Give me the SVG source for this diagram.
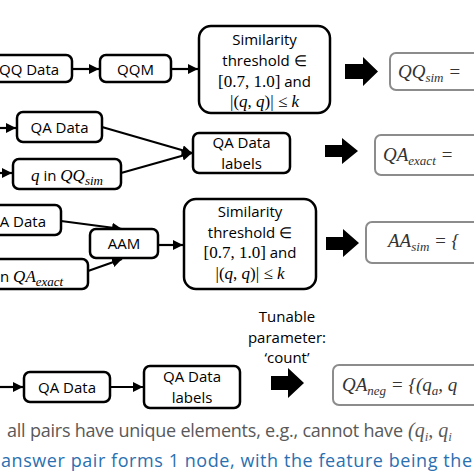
<svg xmlns="http://www.w3.org/2000/svg" width="474" height="474" viewBox="0 0 474 474">
<style>
.box{fill:#fff;stroke:#000;stroke-width:2.5}
.gbox{fill:#fff;stroke:#8c8c8c;stroke-width:2}
.t{font-family:"Open Sans","Noto Sans",sans-serif;font-size:15px;fill:#000}
.tm{font-family:"Liberation Serif","DejaVu Serif",serif;font-size:17px;fill:#000}
.i{font-style:italic}
.m{font-family:"Liberation Serif","DejaVu Serif",serif;font-style:italic;font-size:19px;fill:#333}
.sub{font-size:13px}
.c{stroke:#000;stroke-width:2.2;fill:none;marker-end:url(#ah)}
.big{fill:#000}
.gray{font-family:"Open Sans","Noto Sans",sans-serif;font-size:18px;fill:#595959}
.graym{font-family:"Liberation Serif","DejaVu Serif",serif;font-style:italic;font-size:20px;fill:#595959}
.blue{font-family:"Open Sans","Noto Sans",sans-serif;font-size:18px;fill:#2a70b0}
</style>
<defs>
<marker id="ah" markerWidth="10" markerHeight="10" refX="10" refY="5" orient="auto" markerUnits="userSpaceOnUse" viewBox="0 0 10 10"><path d="M0,0 L10,5 L0,10 z" fill="#000"/></marker>
</defs>

<g id="connectors">
<line class="c" x1="72" y1="69" x2="99" y2="69"/>
<line class="c" x1="171" y1="69" x2="198" y2="69"/>
<line class="c" x1="0" y1="128" x2="16" y2="128"/>
<line class="c" x1="0" y1="173" x2="12" y2="173"/>
<line class="c" x1="102" y1="127" x2="192" y2="153"/>
<line class="c" x1="121" y1="173" x2="192" y2="153"/>
<line class="c" x1="61" y1="221" x2="122" y2="229"/>
<line class="c" x1="88" y1="271" x2="122" y2="259"/>
<line class="c" x1="158" y1="245" x2="183" y2="245"/>
<line class="c" x1="0" y1="387" x2="23" y2="387"/>
<line class="c" x1="110" y1="387" x2="143" y2="387"/>
</g>

<g id="bigarrows">
<path class="big" d="M345,64 H363 V57 L378,71.5 L363,86 V79 H345 Z"/>
<path class="big" d="M325,145 H342 V138 L358,151 L342,164 V157 H325 Z"/>
<path class="big" d="M326,237 H343 V229 L359,243 L343,257 V250 H326 Z"/>
<path class="big" d="M271,376 H288 V368 L304,383 L288,398 V390 H271 Z"/>
</g>

<g id="qqdata">
<rect class="box" x="-20" y="55" width="92" height="27" rx="6"/>
<text class="t" x="-1" y="75">QQ Data</text>
</g>
<g id="qqm">
<rect class="box" x="100" y="55" width="71" height="27" rx="6"/>
<text class="t" x="135.5" y="75" text-anchor="middle">QQM</text>
</g>
<g id="sim1">
<rect class="box" x="199" y="26" width="131" height="87" rx="12"/>
<text class="t" x="264.5" y="45" text-anchor="middle">Similarity</text>
<text class="t" x="264.5" y="66" text-anchor="middle">threshold ∈</text>
<text x="264.5" y="87" text-anchor="middle"><tspan class="tm">[0.7, 1.0]</tspan><tspan class="t"> and</tspan></text>
<text class="tm" x="264.5" y="107" text-anchor="middle">|(<tspan class="i">q</tspan>, <tspan class="i">q</tspan>)| ≤ <tspan class="i">k</tspan></text>
</g>
<g id="qqsim">
<rect class="gbox" x="390" y="53" width="110" height="37" rx="6"/>
<text class="m" x="398" y="78">QQ<tspan class="sub" dy="4">sim</tspan><tspan dy="-4"> =</tspan></text>
</g>

<g id="qadata1">
<rect class="box" x="17" y="112" width="85" height="30" rx="6"/>
<text class="t" x="59.5" y="133" text-anchor="middle">QA Data</text>
</g>
<g id="qinqqsim">
<rect class="box" x="13" y="159" width="108" height="30" rx="6"/>
<text x="67" y="181" text-anchor="middle"><tspan class="tm i">q</tspan><tspan class="t"> in </tspan><tspan class="tm i">QQ</tspan><tspan class="tm i sub" dy="4">sim</tspan></text>
</g>
<g id="qalabels1">
<rect class="box" x="193" y="133" width="97" height="40" rx="6"/>
<text class="t" x="241.5" y="148" text-anchor="middle">QA Data</text>
<text class="t" x="241.5" y="169" text-anchor="middle">labels</text>
</g>
<g id="qaexact">
<rect class="gbox" x="375" y="135" width="120" height="40" rx="6"/>
<text class="m" x="383" y="161">QA<tspan class="sub" dy="4">exact</tspan><tspan dy="-4"> =</tspan></text>
</g>

<g id="qadata2">
<rect class="box" x="-30" y="205" width="91" height="30" rx="6"/>
<text class="t" x="46" y="227" text-anchor="end">A Data</text>
</g>
<g id="qinqaexact">
<rect class="box" x="-40" y="259" width="128" height="30" rx="6"/>
<text x="0" y="282"><tspan class="t">n </tspan><tspan class="tm i">QA</tspan><tspan class="tm i sub" dy="4">exact</tspan></text>
</g>
<g id="aam">
<rect class="box" x="90" y="229" width="68" height="29" rx="6"/>
<text class="t" x="124" y="249" text-anchor="middle">AAM</text>
</g>
<g id="sim2">
<rect class="box" x="184" y="199" width="132" height="90" rx="12"/>
<text class="t" x="250" y="217" text-anchor="middle">Similarity</text>
<text class="t" x="250" y="238" text-anchor="middle">threshold ∈</text>
<text x="250" y="258" text-anchor="middle"><tspan class="tm">[0.7, 1.0]</tspan><tspan class="t"> and</tspan></text>
<text class="tm" x="250" y="279" text-anchor="middle">|(<tspan class="i">q</tspan>, <tspan class="i">q</tspan>)| ≤ <tspan class="i">k</tspan></text>
</g>
<g id="aasim">
<rect class="gbox" x="366" y="222" width="130" height="41" rx="6"/>
<text class="m" x="388" y="247">AA<tspan class="sub" dy="4">sim</tspan><tspan dy="-4"> = {</tspan></text>
</g>

<g id="qadata3">
<rect class="box" x="24" y="372" width="86" height="30" rx="6"/>
<text class="t" x="67" y="393" text-anchor="middle">QA Data</text>
</g>
<g id="qalabels2">
<rect class="box" x="144" y="366" width="96" height="42" rx="6"/>
<text class="t" x="192" y="382" text-anchor="middle">QA Data</text>
<text class="t" x="192" y="403" text-anchor="middle">labels</text>
</g>
<g id="tunable">
<text class="t" x="287" y="322" text-anchor="middle">Tunable</text>
<text class="t" x="287" y="343" text-anchor="middle">parameter:</text>
<text class="t" x="287" y="363" text-anchor="middle">‘count’</text>
</g>
<g id="qaneg">
<rect class="gbox" x="333" y="365" width="160" height="40" rx="6"/>
<text class="m" x="342" y="391">QA<tspan class="sub" dy="4">neg</tspan><tspan dy="-4"> = {(q</tspan><tspan class="sub" dy="4">a</tspan><tspan dy="-4">, q</tspan></text>
</g>

<g id="notes">
<text class="gray" x="7" y="437" textLength="396" lengthAdjust="spacing">all pairs have unique elements, e.g., cannot have</text>
<text class="graym" x="408" y="437">(q<tspan class="sub" dy="4">i</tspan><tspan dy="-4">, q</tspan><tspan class="sub" dy="4">i</tspan></text>
<text class="blue" x="1" y="467" textLength="471" lengthAdjust="spacing">answer pair forms 1 node, with the feature being the</text>
</g>
</svg>
